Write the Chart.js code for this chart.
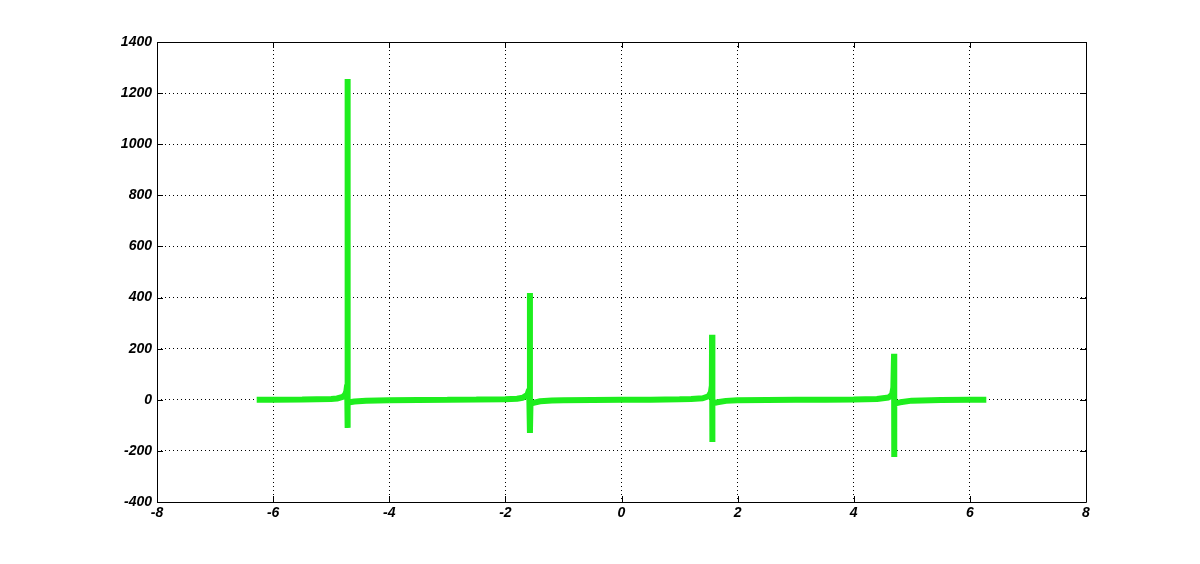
<!DOCTYPE html>
<html>
<head>
<meta charset="utf-8">
<script src="https://cdn.jsdelivr.net/npm/chart.js@4.4.1/dist/chart.umd.min.js"></script>
<style>
html,body{margin:0;padding:0;background:#fff;}
#wrap{width:1200px;height:564px;position:relative;}
</style>
</head>
<body>
<div id="wrap"><canvas id="c" width="1200" height="564"></canvas></div>
<script>
// Values (x, y)
const xValues = [-6.283,-6.0,-5.5,-5.0,-4.9,-4.8,-4.76,-4.74,-4.725,-4.7195,-4.7185,-4.712,-4.70,-4.68,-4.6,-4.4,-4.0,-3.5,-3.0,-2.5,-2.0,-1.8,-1.7,-1.62,-1.59,-1.5775,-1.5765,-1.568,-1.55,-1.5,-1.4,-1.2,-1.0,-0.5,0.0,0.5,1.0,1.2,1.4,1.5,1.54,1.556,1.5595,1.5605,1.57,1.59,1.65,1.8,2.0,2.5,3.0,3.5,4.0,4.4,4.6,4.66,4.682,4.6945,4.6955,4.70,4.72,4.8,5.0,5.5,6.0,6.283];
const yValues = [0,0.3,1,3.4,5,11,20,32,58,1255,-110,-16,-12,-10,-7,-4,-1.5,-0.4,0.1,0.8,2.2,4.3,7.7,20,40,418,-130,-18,-14,-11,-5.8,-2.6,-1.6,-0.5,0,0.5,1.6,2.6,5.8,14,30,55,254,-165,-18,-13,-10,-4.3,-2.2,-0.8,-0.1,0.4,1.2,3.1,8.9,20,48,180,-224,-20,-14,-10,-3.4,-1,-0.3,0];
const xTicks = [-8,-6,-4,-2,0,2,4,6,8];
const yTicks = [-400,-200,0,200,400,600,800,1000,1200,1400];

const points = xValues.map((x,i)=>({x:x,y:yValues[i]}));
const FONT = {family:'"Liberation Sans", Arial, sans-serif', size:14, weight:'bold', style:'italic'};

const frame = {
  id:'frame',
  afterDatasetsDraw(chart){
    const ctx = chart.ctx, a = chart.chartArea;
    const xs = chart.scales.x, ys = chart.scales.y;
    ctx.save();
    ctx.strokeStyle = '#000';
    ctx.lineWidth = 1;
    ctx.beginPath();
    ctx.rect(Math.round(a.left)+0.5, Math.round(a.top)+0.5, Math.round(a.right-a.left), Math.round(a.bottom-a.top));
    ctx.stroke();
    const L = 6;
    ctx.beginPath();
    xTicks.forEach(v=>{
      const p = Math.round(xs.getPixelForValue(v))+0.5;
      ctx.moveTo(p,a.bottom); ctx.lineTo(p,a.bottom-L);
      ctx.moveTo(p,a.top); ctx.lineTo(p,a.top+L);
    });
    yTicks.forEach(v=>{
      const p = Math.round(ys.getPixelForValue(v))+0.5;
      ctx.moveTo(a.left,p); ctx.lineTo(a.left+L,p);
      ctx.moveTo(a.right,p); ctx.lineTo(a.right-L,p);
    });
    ctx.stroke();
    ctx.restore();
  }
};

new Chart(document.getElementById('c'), {
  type:'scatter',
  data:{datasets:[{
    data:points,
    showLine:true,
    borderColor:'#1eee1e',
    backgroundColor:'#1eee1e',
    borderWidth:6,
    pointRadius:0,
    tension:0,
    borderJoinStyle:'bevel',
    borderCapStyle:'butt'
  }]},
  options:{
    responsive:false,
    animation:false,
    layout:{padding:{left:0,right:114,top:42,bottom:0}},
    plugins:{legend:{display:false},tooltip:{enabled:false}},
    scales:{
      x:{
        type:'linear', min:-8, max:8,
        afterBuildTicks(s){ s.ticks = xTicks.map(v=>({value:v})); },
        afterFit(s){ s.height = 62; },
        grid:{color:'#000', lineWidth:1, drawTicks:false, tickLength:0},
        border:{display:false, dash:[1,3]},
        ticks:{color:'#000', font:FONT, padding:3, maxRotation:0, callback:v=>String(v)}
      },
      y:{
        type:'linear', min:-400, max:1400,
        afterBuildTicks(s){ s.ticks = yTicks.map(v=>({value:v})); },
        afterFit(s){ s.width = 157; },
        grid:{color:'#000', lineWidth:1, drawTicks:false, tickLength:0},
        border:{display:false, dash:[1,3]},
        ticks:{color:'#000', font:FONT, padding:5, callback:v=>String(v)}
      }
    }
  },
  plugins:[frame]
});
</script>
</body>
</html>
